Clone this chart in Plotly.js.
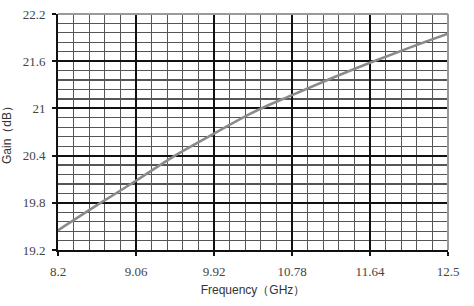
<!DOCTYPE html>
<html>
<head>
<meta charset="utf-8">
<script src="https://cdn.plot.ly/plotly-3.0.1.min.js"></script>
<style>html,body{margin:0;padding:0;background:#fff;}#chart{width:474px;height:306px;}</style>
</head>
<body>
<div id="chart"></div>
<script>
const freq = [8.2, 8.63, 9.06, 9.49, 9.92, 10.35, 10.78, 11.21, 11.64, 12.07, 12.5];
const gain = [19.45, 19.77, 20.08, 20.40, 20.68, 20.95, 21.17, 21.38, 21.58, 21.77, 21.95];
const xTicks = [8.2, 9.06, 9.92, 10.78, 11.64, 12.5];
const xTickText = ["8.2", "9.06", "9.92", "10.78", "11.64", "12.5"];
const yTicks = [19.2, 19.8, 20.4, 21, 21.6, 22.2];
const yTickText = ["19.2", "19.8", "20.4", "21", "21.6", "22.2"];

const tickFont = {family: "Liberation Serif, DejaVu Serif, serif", size: 13, color: "#444"};
const titleFont = {family: "Liberation Sans, Arial, sans-serif", size: 12, color: "#333"};

Plotly.newPlot("chart", [{
  x: freq, y: gain, mode: "lines", type: "scatter",
  line: {color: "#8a8a8a", width: 2.5, shape: "spline"},
  hoverinfo: "skip"
}], {
  width: 474, height: 306,
  margin: {l: 58, r: 26, t: 14, b: 56},
  paper_bgcolor: "#fff", plot_bgcolor: "#fff",
  showlegend: false,
  xaxis: {
    range: [8.2, 12.5], tickmode: "array", tickvals: xTicks, ticktext: xTickText,
    showgrid: true, gridcolor: "#111", gridwidth: 2,
    showline: true, linecolor: "#111", linewidth: 2,
    ticks: "outside", ticklen: 4, tickwidth: 2, tickcolor: "#111",
    ticklabelstandoff: 4,
    tickfont: tickFont, zeroline: false,
    minor: {tick0: 8.2, dtick: 0.172, showgrid: true, gridcolor: "#555", gridwidth: 1.2, ticks: ""},
    title: {text: "Frequency（GHz）", font: titleFont, standoff: 8}
  },
  yaxis: {
    range: [19.2, 22.2], tickmode: "array", tickvals: yTicks, ticktext: yTickText,
    showgrid: true, gridcolor: "#111", gridwidth: 2,
    showline: true, linecolor: "#111", linewidth: 2,
    ticks: "outside", ticklen: 4, tickwidth: 2, tickcolor: "#111",
    ticklabelstandoff: 4,
    tickfont: tickFont, zeroline: false,
    minor: {tick0: 19.2, dtick: 0.12, showgrid: true, gridcolor: "#555", gridwidth: 1.2, ticks: ""},
    title: {text: "Gain（dB）", font: titleFont, standoff: 10}
  },
  shapes: [
    {type: "line", xref: "paper", yref: "paper", x0: 0, x1: 1, y0: 1, y1: 1, line: {color: "#999", width: 2}},
    {type: "line", xref: "paper", yref: "paper", x0: 1, x1: 1, y0: 0, y1: 1, line: {color: "#999", width: 2}}
  ]
}, {displayModeBar: false, staticPlot: true});
</script>
</body>
</html>
